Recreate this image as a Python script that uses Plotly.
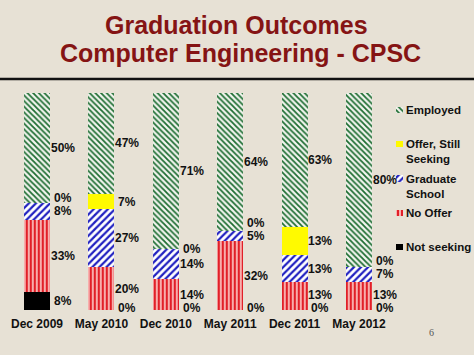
import plotly.graph_objects as go

# ---------------- data ----------------
categories = ["Dec 2009", "May 2010", "Dec 2010", "May 2011", "Dec 2011", "May 2012"]
not_seeking = [8, 0, 0, 0, 0, 0]
no_offer = [33, 20, 14, 32, 13, 13]
graduate_school = [8, 27, 14, 5, 13, 7]
offer_still_seeking = [0, 7, 0, 0, 13, 0]
employed = [50, 47, 71, 64, 63, 80]

series_names = ["Not seeking", "No Offer", "Graduate School", "Offer, Still Seeking", "Employed"]
series_values = [not_seeking, no_offer, graduate_school, offer_still_seeking, employed]
legend_names = ["Employed", "Offer, Still Seeking", "Graduate School", "No Offer", "Not seeking"]
legend_text = ["Employed", "Offer, Still<br>Seeking", "Graduate<br>School", "No Offer", "Not seeking"]

# ---------------- styles ----------------
W, H = 474, 355
BG = "#e7e1d5"
FONT = "Liberation Sans, Arial, sans-serif"
styles = {
    "Not seeking": dict(color="#000000"),
    "No Offer": dict(color="#f7aeac",
                     pattern=dict(shape="|", fgcolor="#e11f28", bgcolor="#f7aeac",
                                  size=4, solidity=0.5, fillmode="replace")),
    "Graduate School": dict(color="#ffffff",
                            pattern=dict(shape="/", fgcolor="#2020c0", bgcolor="#ffffff",
                                         size=5, solidity=0.45, fillmode="replace")),
    "Offer, Still Seeking": dict(color="#fffa00"),
    "Employed": dict(color="#f3f5ef",
                     pattern=dict(shape="\\", fgcolor="#1f6e33", bgcolor="#f3f5ef",
                                  size=4, solidity=0.45, fillmode="replace")),
}

n = len(categories)
totals = [sum(v[i] for v in series_values) for i in range(n)]
norm = [[v[i] / totals[i] * 100 for i in range(n)] for v in series_values]
xs = list(range(n))

fig = go.Figure()
for name, vals in zip(series_names, norm):
    fig.add_trace(go.Bar(x=xs, y=vals, name=name, width=0.404,
                         marker=dict(line=dict(width=0), **styles[name]),
                         xaxis="x", yaxis="y"))

# legend swatches on their own small axes
for k, name in enumerate(legend_names):
    fig.add_trace(go.Bar(x=[1], y=[k], orientation="h", width=0.18, base=0,
                         marker=dict(line=dict(width=0), **styles[name]),
                         xaxis="x2", yaxis="y2", showlegend=False))

annotations = []
# value labels to the right of each segment, pushed apart when they would overlap
min_gap = 6.0
for i in range(n):
    cum = 0.0
    prev = None
    for s, raw in enumerate(series_values):
        v = norm[s][i]
        yc = cum + v / 2
        if prev is None:
            yc = max(yc, 1.0)
        else:
            yc = max(yc, prev + min_gap)
        prev = yc
        cum += v
        annotations.append(dict(x=i + 0.40, y=yc, xref="x", yref="y", text=f"{raw[i]}%",
                                showarrow=False, xanchor="center", yanchor="middle",
                                font=dict(family=FONT, size=12, color="#111111", weight="bold")))

# legend texts
for k, t in enumerate(legend_text):
    annotations.append(dict(x=404 / W, y=k, xref="paper", yref="y2", text=t, align="left",
                            showarrow=False, xanchor="left", yanchor="top", yshift=8,
                            font=dict(family=FONT, size=11.5, color="#111111", weight="bold")))

# title
annotations.append(dict(x=236 / W, y=1 - 25 / H, xref="paper", yref="paper",
                        text="Graduation Outcomes", showarrow=False,
                        xanchor="center", yanchor="middle",
                        font=dict(family=FONT, size=25, color="#851414", weight="bold")))
annotations.append(dict(x=240 / W, y=1 - 53 / H, xref="paper", yref="paper",
                        text="Computer Engineering - CPSC", showarrow=False,
                        xanchor="center", yanchor="middle",
                        font=dict(family=FONT, size=25, color="#851414", weight="bold")))
# slide number
annotations.append(dict(x=431 / W, y=1 - 332 / H, xref="paper", yref="paper", text="6",
                        showarrow=False, xanchor="center", yanchor="middle",
                        font=dict(family="Liberation Serif, DejaVu Serif, serif", size=10,
                                  color="#555555")))

fig.update_layout(
    width=W, height=H,
    margin=dict(l=0, r=0, t=0, b=0),
    paper_bgcolor=BG, plot_bgcolor=BG,
    barmode="stack", showlegend=False,
    xaxis=dict(domain=[4.8 / W, 391.2 / W], range=[-0.5, 5.5], tickvals=xs,
               ticktext=categories, showgrid=False, zeroline=False, showline=False,
               ticks="", ticklabelstandoff=5,
               tickfont=dict(family=FONT, size=12, color="#111111", weight="bold")),
    yaxis=dict(domain=[45 / H, 262 / H], range=[0, 100], visible=False),
    xaxis2=dict(domain=[396 / W, 403 / W], range=[0, 1], visible=False, anchor="y2"),
    yaxis2=dict(domain=[91 / H, 262 / H], range=[4.5, -0.5], visible=False, anchor="x2"),
    annotations=annotations,
    shapes=[dict(type="line", xref="paper", yref="paper", x0=0, x1=1,
                 y0=1 - 79 / H, y1=1 - 79 / H, line=dict(color="#111111", width=2.5))],
)

fig.write_html("out.html", config={"displayModeBar": False},
               post_script="document.body.style.margin='0px';document.body.style.background='%s';" % BG)
